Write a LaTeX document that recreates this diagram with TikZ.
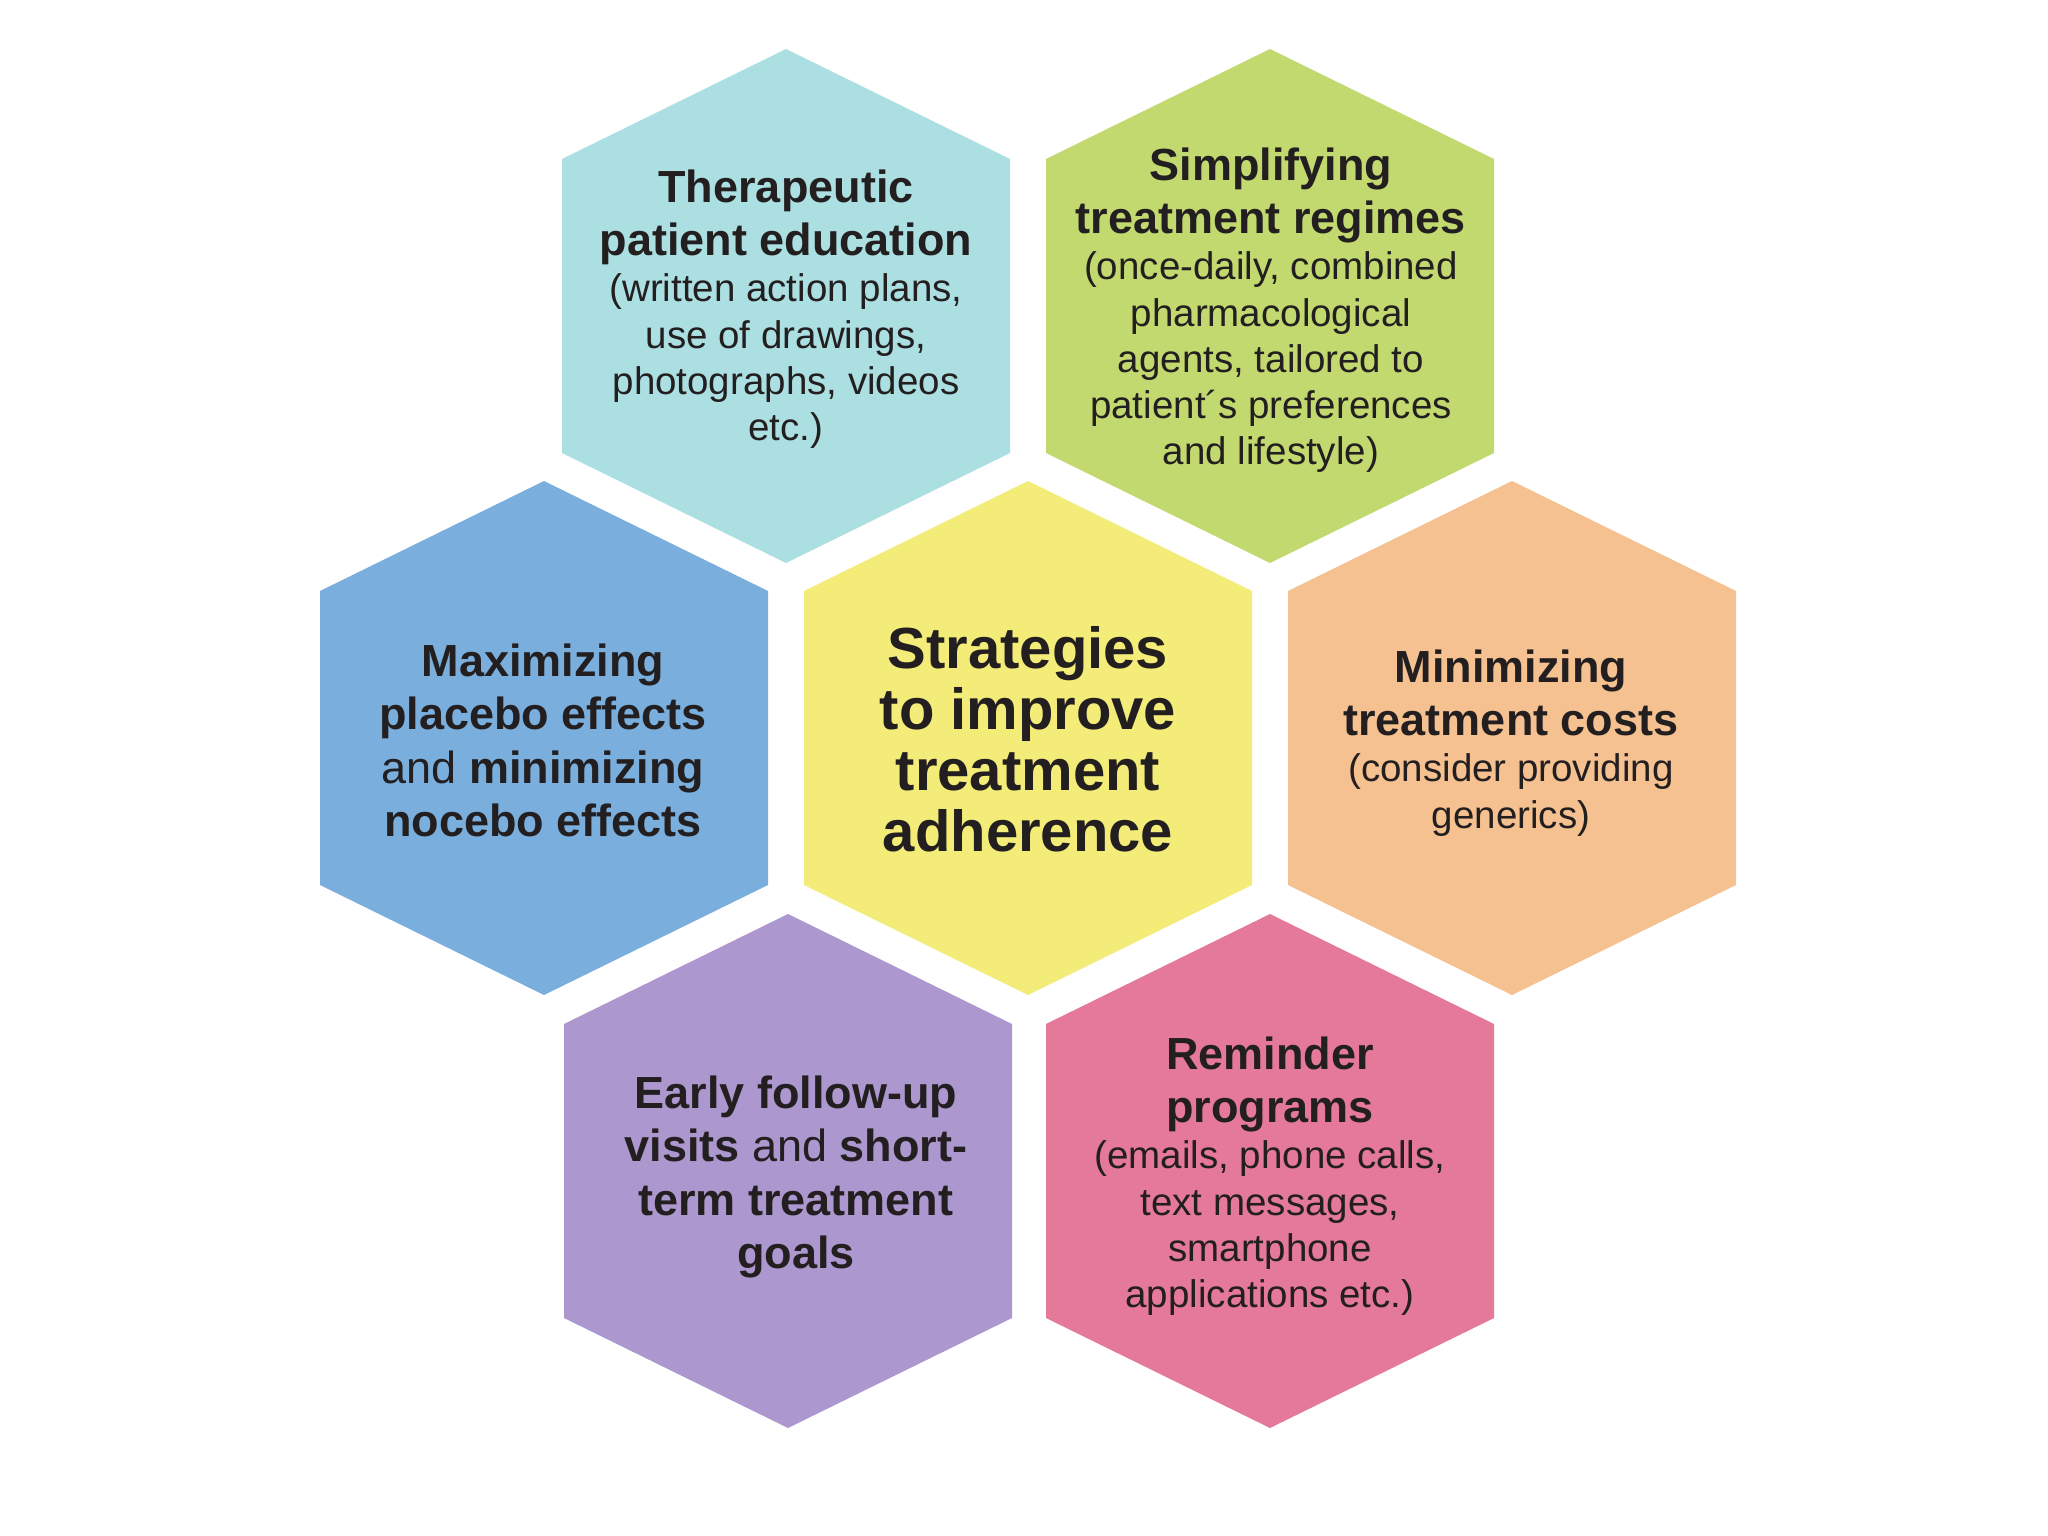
\documentclass[tikz,border=0pt]{standalone}
\usepackage{fontspec}
\setmainfont{Liberation Sans}
\definecolor{hcyan}{HTML}{ACDFE1}
\definecolor{hgreen}{HTML}{C2D970}
\definecolor{hblue}{HTML}{7AAFDD}
\definecolor{hyellow}{HTML}{F3EC78}
\definecolor{horange}{HTML}{F6C190}
\definecolor{hpurple}{HTML}{AC97CE}
\definecolor{hpink}{HTML}{E47999}
\definecolor{ink}{HTML}{231F20}
\newcommand\hexcell[3]{\fill[#3] (#1,#2) ++(0,-257) -- ++(224,110) -- ++(0,294) -- ++(-224,110) -- ++(-224,-110) -- ++(0,-294) -- cycle;}
\newcommand\hbold{\bfseries\fontsize{45}{53.5}\selectfont\spaceskip=0pt\xspaceskip=0pt\relax}
\newcommand\hreg{\mdseries\fontsize{38.5}{46.3}\selectfont\spaceskip=0pt\xspaceskip=0pt\relax}
\newcommand\hbig{\bfseries\fontsize{58}{61}\selectfont\spaceskip=0pt\xspaceskip=0pt\relax}
\tikzset{
  hextext/.style={anchor=base, text width=440pt, align=flush center, inner sep=0pt, text=ink},
}
\begin{document}
\begin{tikzpicture}[x=1pt,y=-1pt]
\useasboundingbox[fill=white] (0,0) rectangle (2048,1536);
\hexcell{786}{306}{hcyan}
\hexcell{1270}{306}{hgreen}
\hexcell{544}{738}{hblue}
\hexcell{1028}{738}{hyellow}
\hexcell{1512}{738}{horange}
\hexcell{788}{1171}{hpurple}
\hexcell{1270}{1171}{hpink}

\node[hextext] (tl) at (786,202) {\hbold Therapeutic\\patient education\par
  \hreg (written action plans,\\use of drawings,\\photographs, videos\\etc.)\par};
\node[hextext] (tr) at (1271,180) {\hbold Simplifying\\treatment regimes\par
  \hreg (once-daily, combined\\pharmacological\\agents, tailored to\\patient´s preferences\\and lifestyle)\par};
\node[hextext] (l) at (543,676) {\hbold Maximizing\\placebo effects\\{\mdseries and} minimizing\\nocebo effects\par};
\node[hextext] (c) at (1028,668) {\hbig Strategies\\to improve\\treatment\\adherence\par};
\node[hextext] (r) at (1511,682) {\hbold Minimizing\\treatment costs\par
  \hreg (consider providing\\generics)\par};
\node[hextext] (bl) at (796,1108) {\hbold Early follow-up\\visits {\mdseries and} short-\\term treatment\\goals\par};
\node[hextext] (br) at (1270,1069) {\hbold Reminder\\programs\par
  \hreg (emails, phone calls,\\text messages,\\smartphone\\applications etc.)\par};
\end{tikzpicture}
\end{document}
